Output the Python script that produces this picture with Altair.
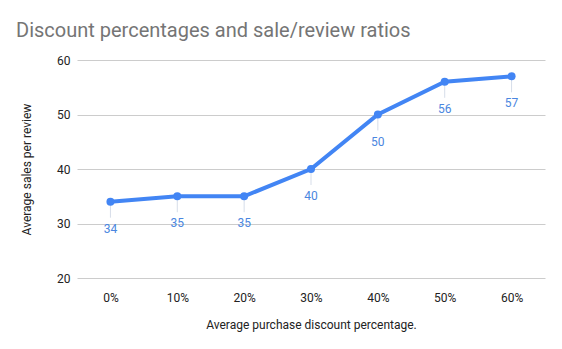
import altair as alt
import pandas as pd

discounts = ["0%", "10%", "20%", "30%", "40%", "50%", "60%"]
sales_per_review = [34, 35, 35, 40, 50, 56, 57]

df = pd.DataFrame({"discount": discounts, "value": sales_per_review})

x = alt.X("discount:N", sort=discounts, scale=alt.Scale(type="point", padding=0.5),
          axis=alt.Axis(title="Average purchase discount percentage.", labelAngle=0,
                        ticks=False, domain=False, grid=False, labelPadding=14, titlePadding=16,
                        labelFont="Roboto", titleFont="Roboto", labelFontSize=12, titleFontSize=12,
                        labelColor="#222222", titleColor="#222222", titleFontWeight="normal"))
y = alt.Y("value:Q", scale=alt.Scale(domain=[20, 60], nice=False),
          axis=alt.Axis(title="Average sales per review", values=[20, 30, 40, 50, 60],
                        ticks=False, domain=False, labelPadding=7, titlePadding=23,
                        gridColor="#cccccc", labelFont="Roboto", titleFont="Roboto",
                        labelFontSize=12, titleFontSize=12, labelColor="#222222",
                        titleColor="#222222", titleFontWeight="normal"))

base = alt.Chart(df).encode(x=x, y=y)

leaders = base.mark_rule(color="#d6dde9", strokeWidth=1, y2Offset=16).encode(y2="value:Q")
line = base.mark_line(color="#4285f4", strokeWidth=4)
pts = base.mark_circle(color="#4285f4", size=64, opacity=1)
labels = base.mark_text(dy=27, color="#4a86e0", fontSize=12, font="Roboto").encode(text="value:Q")

chart = (leaders + line + pts + labels).properties(
    width=468, height=218,
    background="white",
    autosize=alt.AutoSizeParams(type="none"),
    padding={"left": 77, "top": 60, "right": 17, "bottom": 71},
    title=alt.TitleParams("Discount percentages and sale/review ratios", anchor="start",
                          frame="group", dx=-61, offset=13, font="Roboto", fontSize=20,
                          fontWeight="normal", color="#757575"),
).configure_view(strokeWidth=0, stroke="transparent")

chart.save("out.html", embed_options={"renderer": "svg", "actions": False})
